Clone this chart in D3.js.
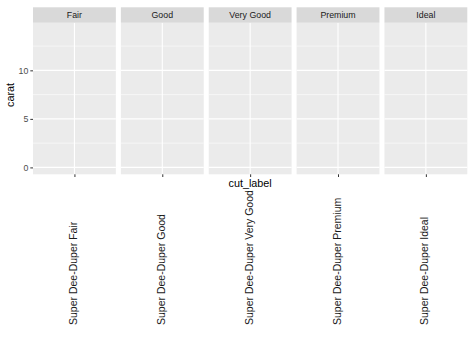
<!DOCTYPE html>
<html lang="en">
<head>
<meta charset="UTF-8">
<title>carat by cut_label</title>
<script src="https://d3js.org/d3.v7.min.js"></script>
<style>
  body { margin: 0; background: #fff; }
  svg { font-family: "Liberation Sans", Arial, sans-serif; display: block; }
</style>
</head>
<body>
<svg width="474" height="338"></svg>
<script>
// facet categories and their x labels
const cuts = ["Fair", "Good", "Very Good", "Premium", "Ideal"];
const cutLabels = ["Super Dee-Duper Fair", "Super Dee-Duper Good", "Super Dee-Duper Very Good",
                   "Super Dee-Duper Premium", "Super Dee-Duper Ideal"];
// y data range (carat) and ticks
const yData = [0, 14.2];
const yTicks = [0, 5, 10];
const yMinor = [2.5, 7.5, 12.5];

const svg = d3.select("svg");
const panelTop = 22.7, panelBottom = 174.3, stripTop = 7.3;
const left = 33, right = 467.3;

const span = yData[1] - yData[0];
const y = d3.scaleLinear()
  .domain([yData[0] - span * 0.05, yData[1] + span * 0.05])
  .range([panelBottom, panelTop]);

const facet = d3.scaleBand()
  .domain(cuts)
  .range([left, right])
  .paddingInner(0.057);

const w = facet.bandwidth();

cuts.forEach((cut, i) => {
  const g = svg.append("g").attr("transform", `translate(${facet(cut)},0)`);
  const x = d3.scalePoint().domain([cutLabels[i]]).range([0, w]).padding(0.5);

  g.append("rect").attr("x", 0).attr("y", panelTop).attr("width", w)
    .attr("height", panelBottom - panelTop).attr("fill", "#EBEBEB");

  g.selectAll(".minor").data(yMinor).enter().append("line")
    .attr("x1", 0).attr("x2", w).attr("y1", d => y(d)).attr("y2", d => y(d))
    .attr("stroke", "#fff").attr("stroke-width", 0.55);

  g.selectAll(".major").data(yTicks).enter().append("line")
    .attr("x1", 0).attr("x2", w).attr("y1", d => y(d)).attr("y2", d => y(d))
    .attr("stroke", "#fff").attr("stroke-width", 1.1);

  g.selectAll(".vmajor").data(x.domain()).enter().append("line")
    .attr("x1", d => x(d)).attr("x2", d => x(d)).attr("y1", panelTop).attr("y2", panelBottom)
    .attr("stroke", "#fff").attr("stroke-width", 1.1);

  // strip
  g.append("rect").attr("x", 0).attr("y", stripTop).attr("width", w)
    .attr("height", panelTop - stripTop).attr("fill", "#D9D9D9");
  g.append("text").attr("x", w / 2).attr("y", (stripTop + panelTop) / 2)
    .attr("dy", "0.35em").attr("text-anchor", "middle")
    .attr("font-size", 8.8).attr("fill", "#1A1A1A").text(cut);

  // x axis
  const ax = g.append("g").attr("transform", `translate(0,${panelBottom})`)
    .call(d3.axisBottom(x).tickSize(2.7).tickSizeOuter(0).tickFormat(""));
  ax.select(".domain").remove();
  ax.selectAll("line").attr("stroke", "#333333").attr("stroke-width", 1);

  x.domain().forEach(lab => {
    g.append("text")
      .attr("transform", `translate(${x(lab)},325) rotate(-90)`)
      .attr("dy", "0.25em").attr("text-anchor", "start")
      .attr("font-size", 10.5).attr("fill", "#1A1A1A").text(lab);
  });
});

// y axis
const ay = svg.append("g").attr("transform", `translate(${left},0)`)
  .call(d3.axisLeft(y).tickValues(yTicks).tickSize(2.7).tickPadding(2));
ay.select(".domain").remove();
ay.selectAll("line").attr("stroke", "#333333");
ay.selectAll("text").attr("font-size", 8.8).attr("fill", "#4D4D4D")
  .style("font-family", "'Liberation Sans', Arial, sans-serif");

svg.append("text").attr("x", (left + right) / 2).attr("y", 187)
  .attr("text-anchor", "middle").attr("font-size", 10.8).attr("fill", "#000")
  .text("cut_label");

svg.append("text").attr("transform", "translate(14,95) rotate(-90)")
  .attr("text-anchor", "middle").attr("font-size", 10.8).attr("fill", "#000")
  .text("carat");
</script>
</body>
</html>
